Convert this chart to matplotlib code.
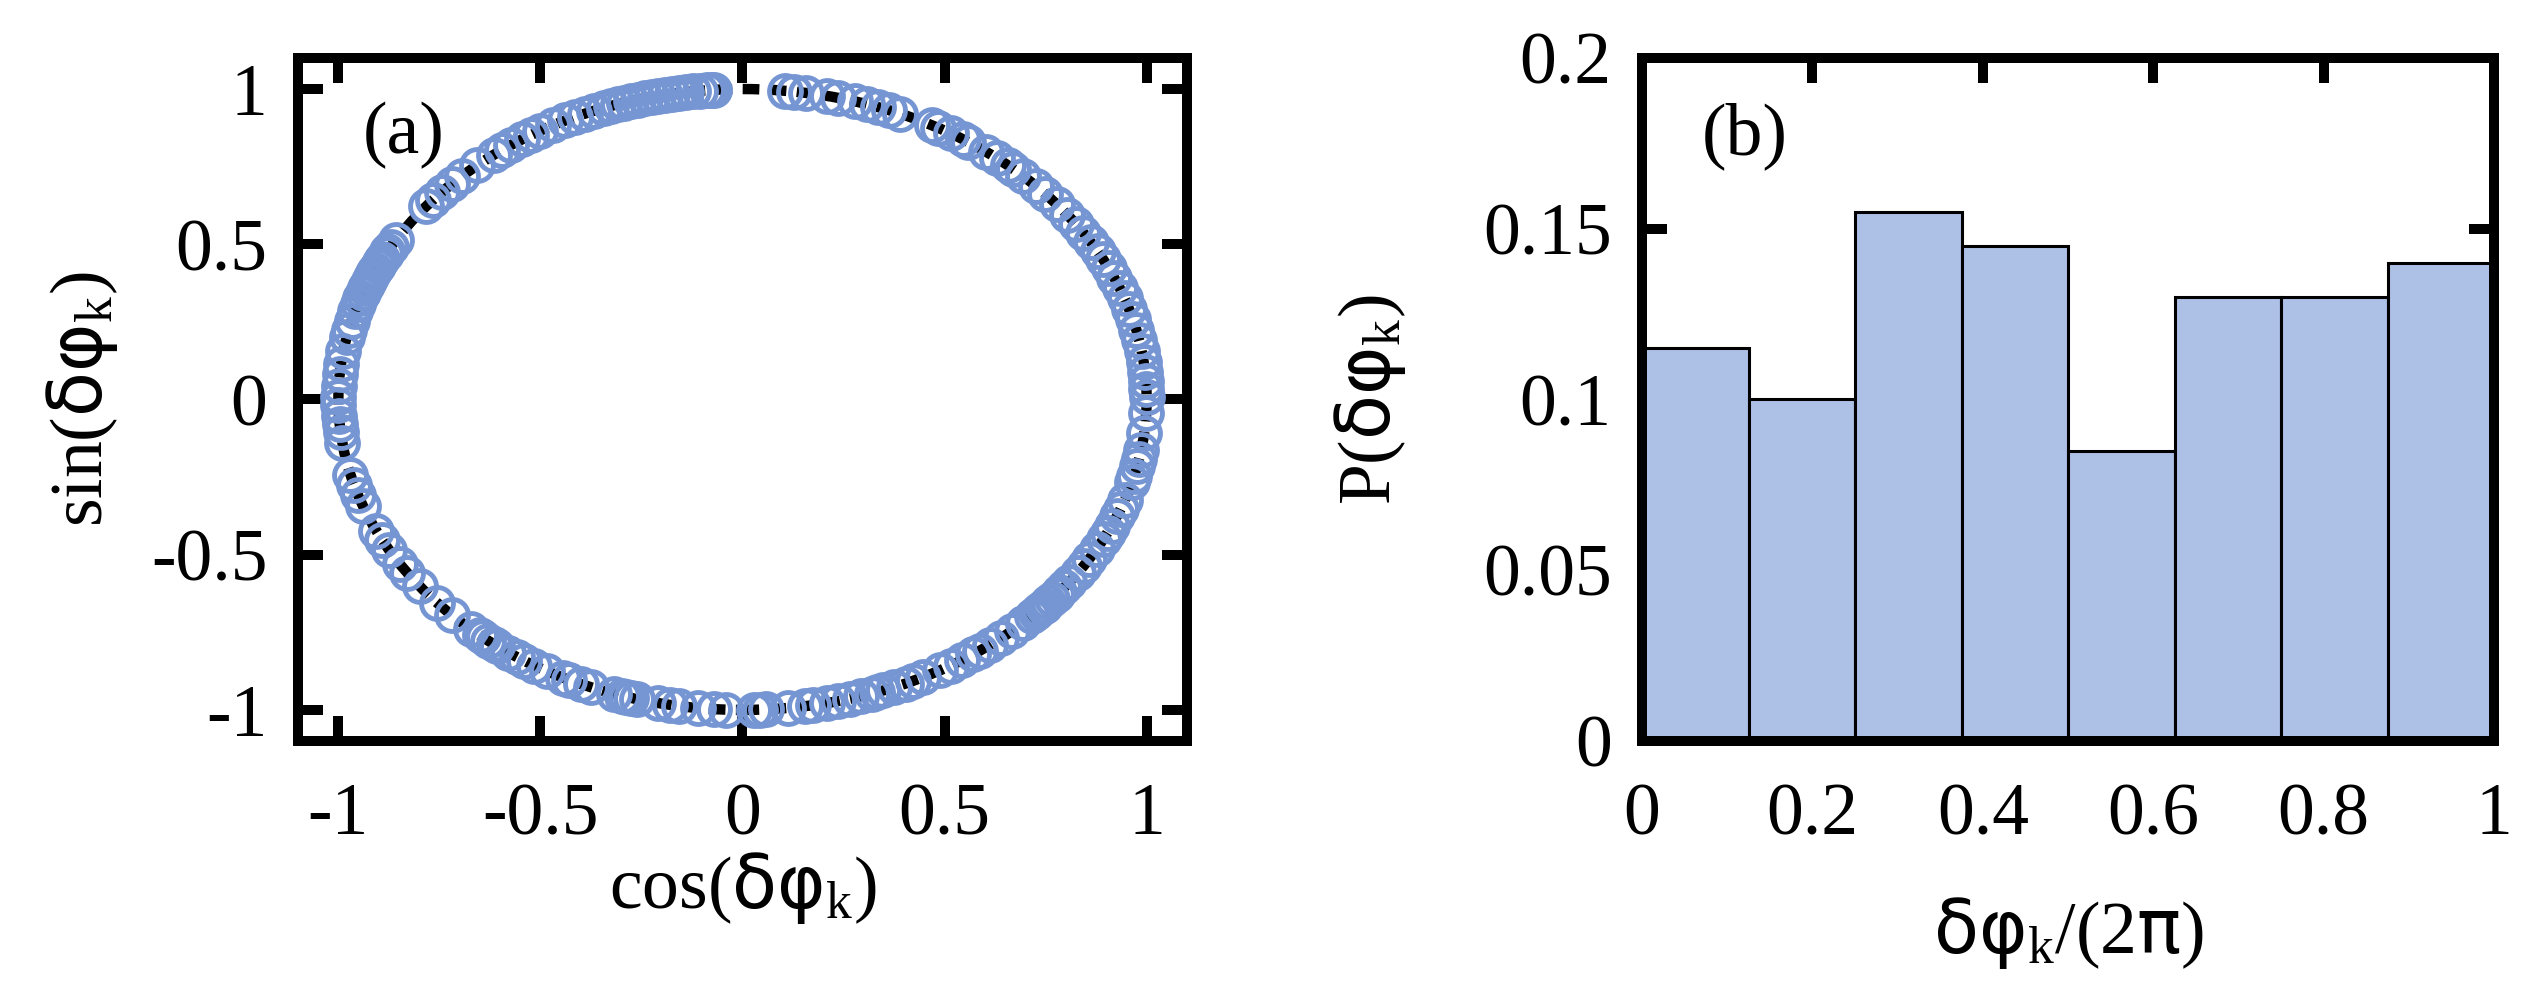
import numpy as np
import matplotlib
matplotlib.use("Agg")
import matplotlib.pyplot as plt
from matplotlib.patches import Circle

plt.rcParams['font.family'] = ['Liberation Serif', 'DejaVu Sans']
plt.rcParams['mathtext.fontset'] = 'custom'
plt.rcParams['mathtext.rm'] = 'Liberation Serif'
plt.rcParams['mathtext.it'] = 'Liberation Serif:italic'
plt.rcParams['mathtext.sf'] = 'DejaVu Sans'

# ---- data ----
# phase differences in degrees, panel (a)
phase_deg = [
    0.5, 2, 3.5, 5, 7, 9, 11, 13, 15, 17, 19, 21, 23, 25, 27, 28.5, 30.5, 32.5, 34.5, 36.5, 39, 41.5, 43.5,
    46, 48, 49, 51, 53, 56, 57, 59, 61, 62, 67, 68.7, 70.4, 72, 73.8, 76.3, 78, 81, 82.7, 84,
    94, 94.5, 95, 96, 97, 98, 99, 100, 101, 102, 103, 104, 105, 106, 107, 108, 109, 110, 111.5, 113, 114.5, 116,
    118, 120, 121.5, 123, 125, 126.6, 128, 131, 134,
    136, 138, 140, 141.5, 149, 150.5, 151.5, 152, 153, 153.8, 154.5, 155.3, 156, 156.8, 157.5, 158.3, 159, 160,
    161, 162, 163.4, 165.3, 167, 168.4, 171, 173.4, 175.3, 177.5, 179.6,
    181, 183, 184.5, 186, 188, 194, 196, 198, 200, 205, 207, 209, 212, 214, 217, 221, 224,
    227.8, 229.4, 230, 231, 232, 232.6, 234.6, 236, 237.3, 239, 241, 243.7, 244.5, 246.4, 248, 251.5, 252.7,
    253.3, 254, 254.8, 258, 259.7, 261, 263.7, 266, 267.7,
    271.7, 272.5, 273.3, 276.5, 278.9, 280, 282, 283.7, 285.4, 287, 288.7, 289.5, 290.4, 292, 293.8, 295,
    296.5, 299.2, 301, 302.9, 304.8, 306, 307.8, 309.8, 311.9, 314,
    315.8, 316.5, 317.2, 318, 318.4, 319.2, 320, 321, 321.6, 322.8, 323.9, 326.1, 327.6, 329, 331.2, 333.3,
    334.6, 336, 338, 339.3, 341.2, 344.5, 345.7, 347.6, 348.9, 350.7, 353.8, 357.5,
]

# histogram, panel (b)
bin_left = [0.0, 0.125, 0.25, 0.375, 0.5, 0.625, 0.75, 0.875]
bin_height = [0.115, 0.10, 0.155, 0.145, 0.085, 0.13, 0.13, 0.14]
bin_width = 0.125

ticks_a = [-1, -0.5, 0, 0.5, 1]
ticklabels_a = ['-1', '-0.5', '0', '0.5', '1']
xticks_b = [0, 0.2, 0.4, 0.6, 0.8, 1]
xticklabels_b = ['0', '0.2', '0.4', '0.6', '0.8', '1']
yticks_b = [0, 0.05, 0.1, 0.15, 0.2]
yticklabels_b = ['0', '0.05', '0.1', '0.15', '0.2']

# ---- style ----
FS = 53
SPW = 7.2
marker_color = '#7595d3'
bar_color = '#adc0e6'

fig = plt.figure(figsize=(25.38, 9.93), dpi=100)
axA = fig.add_axes([0.1174, 0.2538, 0.3503, 0.6878])
axB = fig.add_axes([0.6470, 0.2538, 0.3357, 0.6878])


def style_axes(ax):
    for s in ax.spines.values():
        s.set_linewidth(SPW)
    ax.tick_params(which='both', direction='in', length=18, width=SPW,
                   top=True, right=True, labelsize=FS, pad=22)
    ax.tick_params(axis='x', pad=30)


# panel (a)
theta = np.deg2rad(np.array(phase_deg))
axA.add_patch(Circle((0, 0), 1.0, fill=False, edgecolor='black', lw=7.5,
                     linestyle=(0, (1.6, 1.0)), zorder=2))
axA.plot(np.cos(theta), np.sin(theta), linestyle='none', marker='o', ms=23,
         mfc='none', mec=marker_color, mew=3.5, zorder=3)
axA.set_xlim(-1.1, 1.1)
axA.set_ylim(-1.1, 1.1)
axA.set_xticks(ticks_a)
axA.set_xticklabels(ticklabels_a)
axA.set_yticks(ticks_a)
axA.set_yticklabels(ticklabels_a)
style_axes(axA)
axA.set_xlabel(r'cos($\mathsf{δφ}_\mathrm{k}$)', fontsize=FS, labelpad=0)
axA.set_ylabel(r'sin($\mathsf{δφ}_\mathrm{k}$)', fontsize=FS, labelpad=22)
axA.text(0.119, 0.886, '(a)', transform=axA.transAxes, fontsize=FS,
         ha='center', va='center')

# panel (b)
axB.set_axisbelow(True)
axB.bar(bin_left, bin_height, width=bin_width, align='edge', color=bar_color,
        edgecolor='black', linewidth=2.2, zorder=1)
axB.set_xlim(0, 1)
axB.set_ylim(0, 0.2)
axB.set_xticks(xticks_b)
axB.set_xticklabels(xticklabels_b)
axB.set_yticks(yticks_b)
axB.set_yticklabels(yticklabels_b)
style_axes(axB)
axB.set_xlabel(r'$\mathsf{δφ}_\mathrm{k}$/(2$\mathsf{π}$)', fontsize=FS, labelpad=32)
axB.set_ylabel(r'P($\mathsf{δφ}_\mathrm{k}$)', fontsize=FS, labelpad=54)
axB.text(0.121, 0.886, '(b)', transform=axB.transAxes, fontsize=FS,
         ha='center', va='center')

fig.savefig('out.png', dpi=100)
